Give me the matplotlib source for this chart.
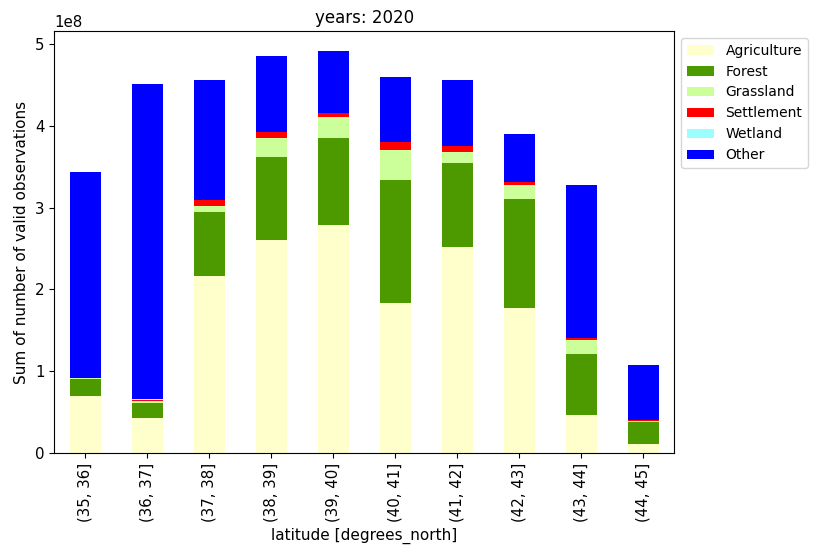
import matplotlib
matplotlib.use("Agg")
import matplotlib.pyplot as plt
import numpy as np

# latitude bins
lat_bins = ["(35, 36]", "(36, 37]", "(37, 38]", "(38, 39]", "(39, 40]",
            "(40, 41]", "(41, 42]", "(42, 43]", "(43, 44]", "(44, 45]"]

# values in units of 1e8 observations
agriculture = [0.70, 0.43, 2.16, 2.60, 2.79, 1.83, 2.52, 1.77, 0.46, 0.11]
forest      = [0.20, 0.18, 0.78, 1.02, 1.06, 1.51, 1.02, 1.33, 0.75, 0.27]
grassland   = [0.01, 0.02, 0.08, 0.23, 0.26, 0.36, 0.14, 0.18, 0.17, 0.01]
settlement  = [0.005, 0.02, 0.07, 0.07, 0.05, 0.10, 0.07, 0.03, 0.02, 0.01]
wetland     = [0.002, 0.005, 0.003, 0.002, 0.002, 0.002, 0.002, 0.002, 0.01, 0.002]
other       = [2.52, 3.85, 1.47, 0.93, 0.75, 0.79, 0.81, 0.59, 1.86, 0.67]

series = [("Agriculture", agriculture, "#ffffcc"),
          ("Forest", forest, "#4d9900"),
          ("Grassland", grassland, "#ccff99"),
          ("Settlement", settlement, "#ff0000"),
          ("Wetland", wetland, "#99ffff"),
          ("Other", other, "#0000ff")]

plt.rcParams['font.size'] = 10.8

fig, ax = plt.subplots(figsize=(8.17, 5.55), dpi=100)
fig.subplots_adjust(left=0.0665, right=0.825, top=0.944, bottom=0.184)

x = np.arange(len(lat_bins))
bottom = np.zeros(len(lat_bins))
for name, vals, col in series:
    v = np.array(vals) * 1e8
    ax.bar(x, v, 0.5, bottom=bottom, color=col, label=name)
    bottom += v

ax.set_xticks(x)
ax.set_xticklabels(lat_bins, rotation=90)
ax.set_xlim(-0.5, len(lat_bins) - 0.5)
ax.set_xlabel("latitude [degrees_north]", fontsize=11)
ax.set_ylabel("Sum of number of valid observations", fontsize=11)
ax.set_title("years: 2020", fontsize=12)
ax.legend(loc="upper left", bbox_to_anchor=(1.0, 1.0), fontsize=10)

fig.savefig("out.png", dpi=100)
